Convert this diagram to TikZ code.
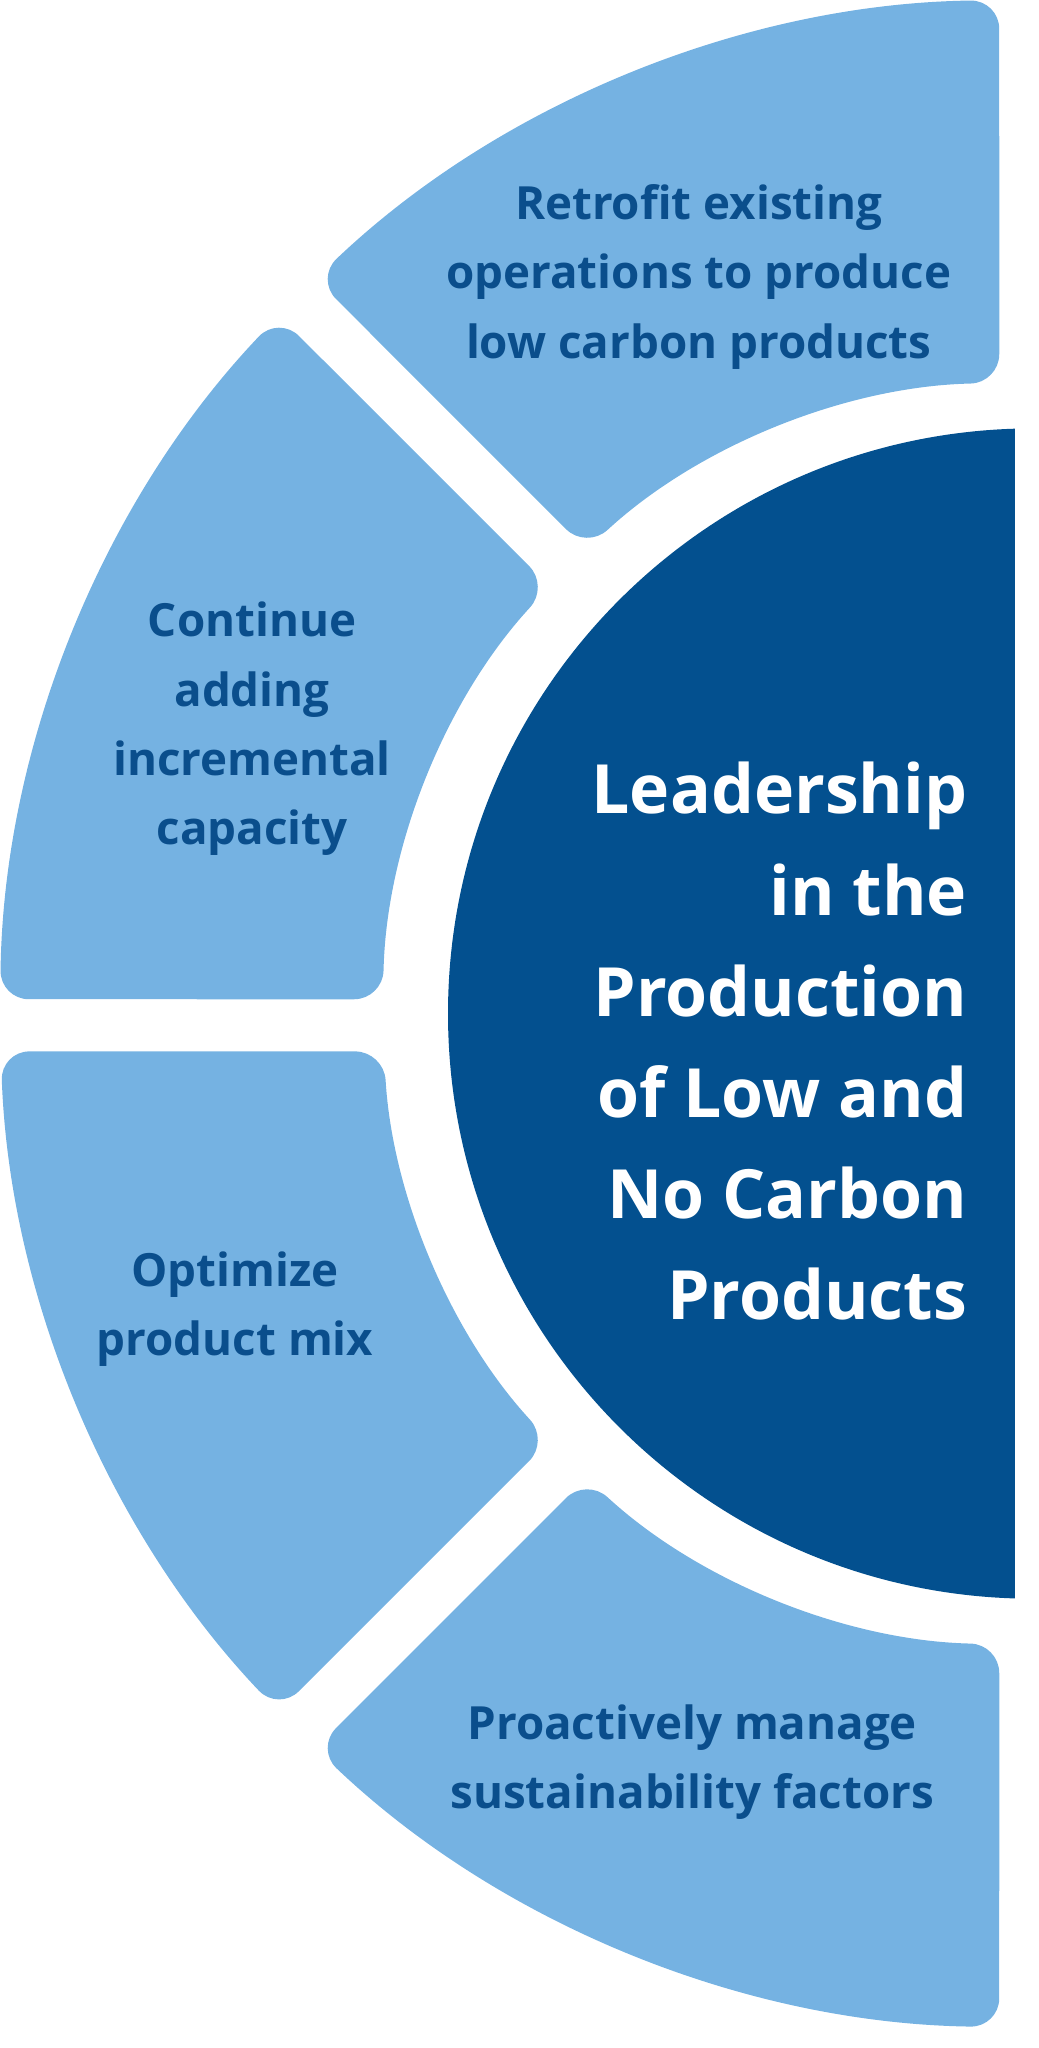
\documentclass[tikz,border=0pt]{standalone}
\usepackage{fontspec}
\setmainfont{Open Sans}
\definecolor{lightb}{HTML}{75B2E2}
\definecolor{darkb}{HTML}{03508F}
\definecolor{txtb}{HTML}{0A4E8C}
\tikzset{seg/.style={fill=lightb,rounded corners=22pt},
 segtxt/.style={text=txtb,font=\bfseries\fontsize{35}{53}\selectfont,align=center},
 ctxt/.style={text=white,font=\bfseries\fontsize{52}{77.5}\selectfont,align=right,anchor=north east}}
\newcommand{\segpath}[4]{%
 \fill[seg] ([shift={(776pt,-776pt)}]#1:776pt) arc[start angle=#1,end angle=#2,radius=776pt]
 -- ([shift={(776pt,-776pt)}]#4:483pt) arc[start angle=#4,end angle=#3,radius=483pt] -- cycle;}
\begin{document}
\begin{tikzpicture}[x=1pt,y=1pt]
\useasboundingbox (0,0) rectangle (795,-1568);
\segpath{90.81}{133.52}{91.3}{132.63}
\segpath{136.48}{179.19}{137.37}{178.7}
\segpath{182.14}{223.52}{183.44}{222.63}
\segpath{226.48}{269.19}{227.37}{268.7}
\begin{scope}
\clip (0,0) rectangle (777,-1568);
\fill[darkb] (791,-776) circle[radius=448pt];
\end{scope}
\node[segtxt] (s1) at (535,-212) {Retrofit existing\\operations to produce\\low carbon products};
\node[segtxt] (s2) at (193,-558) {Continue\\adding\\incremental\\capacity};
\node[segtxt] (s3) at (180,-1002) {Optimize\\product mix};
\node[segtxt] (s4) at (530,-1349) {Proactively manage\\sustainability factors};
\node[ctxt] (c) at (744,-580) {Leadership\\in the\\Production\\of Low and\\No Carbon\\Products};
\end{tikzpicture}
\end{document}
